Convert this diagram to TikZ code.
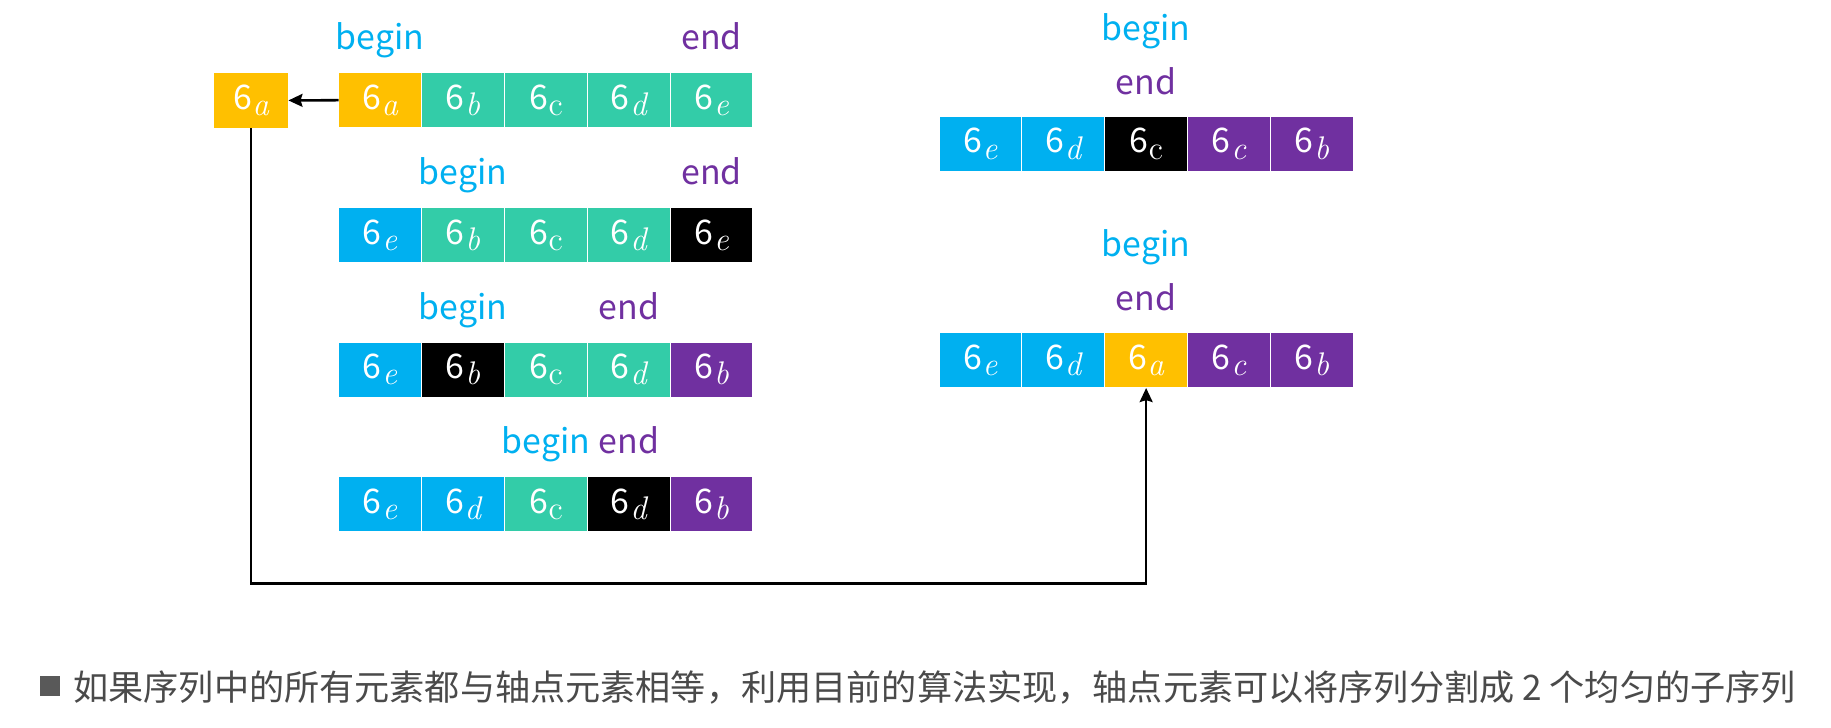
\documentclass[tikz,border=0pt]{standalone}
\usepackage{fontspec}
\newfontfamily\cjk{Noto Sans CJK SC}
\usetikzlibrary{arrows.meta}
\definecolor{cgold}{HTML}{FFC000}
\definecolor{cteal}{HTML}{33CCA8}
\definecolor{cblue}{HTML}{00B0F0}
\definecolor{cpurple}{HTML}{7030A0}
\definecolor{cblack}{HTML}{000000}
\definecolor{cgray}{HTML}{595959}
\definecolor{ctext}{HTML}{4A4A4A}
\newcommand\six[1]{{\cjk\fontsize{14.5}{16}\selectfont 6}\kern0.3pt\raisebox{-2.6pt}{\fontsize{14}{15}\selectfont\itshape #1}}
\newcommand\upc{\upshape c}
\tikzset{
  cell/.style={rectangle, minimum width=35.5pt, minimum height=23.75pt, inner sep=0pt, outer sep=0pt, draw=white, line width=0.6pt, text=white},
  lbl/.style={anchor=base, inner sep=0pt, font=\cjk\fontsize{14.5}{16}\selectfont},
  lbegin/.style={lbl, text=cblue},
  lend/.style={lbl, text=cpurple},
  conn/.style={draw=black, line width=1.1pt, -{Stealth[length=6pt,width=5.5pt,inset=0.8pt]}},
}
\begin{document}
\begin{tikzpicture}[x=0.5pt,y=-0.5pt]
\useasboundingbox (0,0) rectangle (1568,623);
% pivot box
\node[cell, fill=cgold, minimum width=32pt, minimum height=24pt] (pivot) at (215,86) {\six{a}};
% left rows
\foreach \f/\s [count=\i] in {cgold/a,cteal/b,cteal/\upc,cteal/d,cteal/e}
  \node[cell, fill=\f] (r1c\i) at ({290+71*(\i-0.5)},85.8) {\six{\s}};
\foreach \f/\s [count=\i] in {cblue/e,cteal/b,cteal/\upc,cteal/d,cblack/e}
  \node[cell, fill=\f] (r2c\i) at ({290+71*(\i-0.5)},201.2) {\six{\s}};
\foreach \f/\s [count=\i] in {cblue/e,cblack/b,cteal/\upc,cteal/d,cpurple/b}
  \node[cell, fill=\f] (r3c\i) at ({290+71*(\i-0.5)},316.6) {\six{\s}};
\foreach \f/\s [count=\i] in {cblue/e,cblue/d,cteal/\upc,cblack/d,cpurple/b}
  \node[cell, fill=\f] (r4c\i) at ({290+71*(\i-0.5)},431.6) {\six{\s}};
% right rows
\foreach \f/\s [count=\i] in {cblue/e,cblue/d,cblack/\upc,cpurple/c,cpurple/b}
  \node[cell, fill=\f] (s1c\i) at ({804+71*(\i-0.5)},123.2) {\six{\s}};
\foreach \f/\s [count=\i] in {cblue/e,cblue/d,cgold/a,cpurple/c,cpurple/b}
  \node[cell, fill=\f] (s2c\i) at ({804+71*(\i-0.5)},308.5) {\six{\s}};
% labels
\node[lbegin] (r1b) at (325.5,42.8) {begin};
\node[lend]   (r1e) at (609.5,42.8) {end};
\node[lbegin] (r2b) at (396.5,158.2) {begin};
\node[lend]   (r2e) at (609.5,158.2) {end};
\node[lbegin] (r3b) at (396.5,273.6) {begin};
\node[lend]   (r3e) at (538.5,273.6) {end};
\node[lbegin] (r4b) at (467.5,388.2) {begin};
\node[lend]   (r4e) at (538.5,388.2) {end};
\node[lbegin] (s1b) at (981.5,34.5) {begin};
\node[lend]   (s1e) at (981.5,81.2) {end};
\node[lbegin] (s2b) at (981.5,219.8) {begin};
\node[lend]   (s2e) at (981.5,265.5) {end};
% connectors
\draw[conn] (r1c1.west) -- (pivot.east);
\coordinate (turn) at (215,499.5);
\draw[conn] (pivot.south) -- (pivot.south |- turn) -- (s2c3.south |- turn) -- (s2c3.south);
% bottom text
\node[rectangle, fill=cgray, minimum width=8.5pt, minimum height=8.5pt, inner sep=0pt] (bullet) at (42.5,587.5) {};
\node[anchor=base west, inner sep=0pt, text=ctext, font=\cjk\fontsize{15.05}{17}\selectfont] (note) at (62.5,599.5) {如果序列中的所有元素都与轴点元素相等，利用目前的算法实现，轴点元素可以将序列分割成 2 个均匀的子序列};
\end{tikzpicture}
\end{document}
